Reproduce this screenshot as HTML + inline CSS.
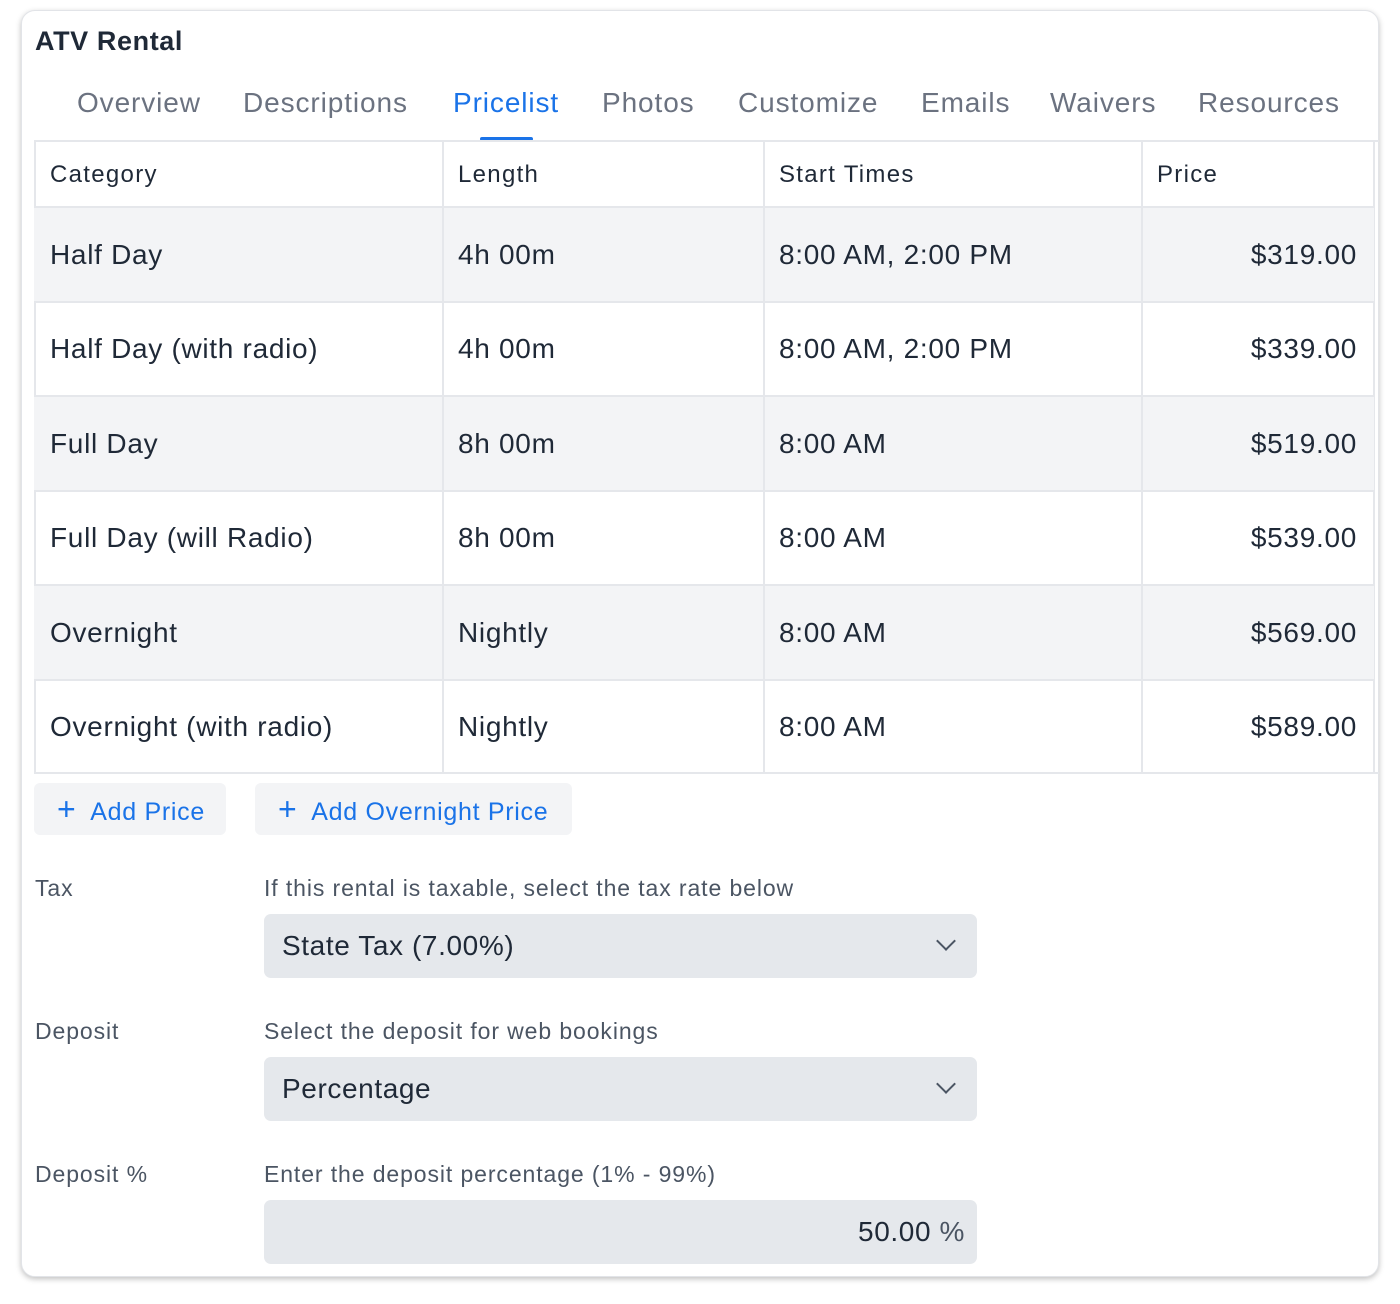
<!DOCTYPE html><html><head><style>
*{margin:0;padding:0;box-sizing:border-box}
body{width:1400px;height:1304px;background:#fff;font-family:"Liberation Sans",sans-serif;position:relative;overflow:hidden;color:#1f2937}
.card{position:absolute;left:21px;top:10px;width:1358px;height:1267px;border-radius:14px;background:#fff;box-shadow:0 2px 6px rgba(0,0,0,.25);border:1px solid #e2e4e8}
.a{position:absolute;white-space:nowrap}
.tab{position:absolute;top:86px;font-size:28px;color:#6b7280;line-height:34px;letter-spacing:0.9px}
.cell{position:absolute;font-size:28px;line-height:34px;color:#1f2937;letter-spacing:0.7px}
.hd{position:absolute;font-size:24px;top:160px;line-height:30px;color:#1f2937;letter-spacing:1.3px}
.row{position:absolute;left:34px;width:1340px;height:95px;border-top:2px solid #e5e7eb}
.vl{position:absolute;top:142px;width:2px;height:631px;background:#e5e7eb}
.btn{position:absolute;top:783px;height:52px;background:#f3f4f6;border-radius:6px;color:#1a73e8;font-size:25px;line-height:52px;letter-spacing:0.7px}
.lbl{position:absolute;font-size:23px;color:#4b5563;line-height:28px;letter-spacing:0.9px}
.sel{position:absolute;left:264px;width:713px;height:64px;background:#e5e8ec;border-radius:7px;font-size:28px;line-height:64px;padding-left:18px;color:#1f2937;letter-spacing:0.6px}
.chev{position:absolute;right:24px;width:14px;height:14px;border-right:2.5px solid #4b5563;border-bottom:2.5px solid #4b5563;transform:rotate(45deg);top:20px}
</style></head><body>
<div class="card"></div>
<div class="a" style="left:35px;top:24px;font-size:27px;font-weight:bold;color:#1f2937;line-height:34px;letter-spacing:0.6px">ATV Rental</div>
<div class="tab" style="left:77px">Overview</div>
<div class="tab" style="left:243px">Descriptions</div>
<div class="tab" style="left:453px;color:#1a73e8">Pricelist</div>
<div class="tab" style="left:602px">Photos</div>
<div class="tab" style="left:738px">Customize</div>
<div class="tab" style="left:921px">Emails</div>
<div class="tab" style="left:1050px">Waivers</div>
<div class="tab" style="left:1198px">Resources</div>
<div class="a" style="left:480px;top:137px;width:53px;height:4px;background:#1a73e8;border-radius:2px"></div>
<div class="a" style="left:34px;top:140px;width:1345px;height:634px;border:2px solid #e5e7eb;border-right:none"></div>
<div class="a" style="left:1373px;top:142px;width:2px;height:631px;background:#e5e7eb"></div>
<div class="row" style="top:206px;background:#f3f4f6"></div>
<div class="row" style="top:301px"></div>
<div class="row" style="top:395px;background:#f3f4f6"></div>
<div class="row" style="top:490px"></div>
<div class="row" style="top:584px;background:#f3f4f6"></div>
<div class="row" style="top:679px;height:94px"></div>
<div class="vl" style="left:442px"></div><div class="vl" style="left:763px"></div><div class="vl" style="left:1141px"></div>
<div class="hd" style="left:50px">Category</div><div class="hd" style="left:458px">Length</div><div class="hd" style="left:779px">Start Times</div><div class="hd" style="left:1157px">Price</div>
<div class="cell" style="left:50px;top:238px">Half Day</div><div class="cell" style="left:458px;top:238px">4h 00m</div><div class="cell" style="left:779px;top:238px">8:00 AM, 2:00 PM</div><div class="cell" style="right:43px;top:238px">$319.00</div>
<div class="cell" style="left:50px;top:332px">Half Day (with radio)</div><div class="cell" style="left:458px;top:332px">4h 00m</div><div class="cell" style="left:779px;top:332px">8:00 AM, 2:00 PM</div><div class="cell" style="right:43px;top:332px">$339.00</div>
<div class="cell" style="left:50px;top:427px">Full Day</div><div class="cell" style="left:458px;top:427px">8h 00m</div><div class="cell" style="left:779px;top:427px">8:00 AM</div><div class="cell" style="right:43px;top:427px">$519.00</div>
<div class="cell" style="left:50px;top:521px">Full Day (will Radio)</div><div class="cell" style="left:458px;top:521px">8h 00m</div><div class="cell" style="left:779px;top:521px">8:00 AM</div><div class="cell" style="right:43px;top:521px">$539.00</div>
<div class="cell" style="left:50px;top:616px">Overnight</div><div class="cell" style="left:458px;top:616px">Nightly</div><div class="cell" style="left:779px;top:616px">8:00 AM</div><div class="cell" style="right:43px;top:616px">$569.00</div>
<div class="cell" style="left:50px;top:710px">Overnight (with radio)</div><div class="cell" style="left:458px;top:710px">Nightly</div><div class="cell" style="left:779px;top:710px">8:00 AM</div><div class="cell" style="right:43px;top:710px">$589.00</div>
<div class="btn" style="left:34px;width:192px;padding-left:23px"><span style="font-size:32px;font-weight:300">+</span>&nbsp; Add Price</div>
<div class="btn" style="left:255px;width:317px;padding-left:23px"><span style="font-size:32px;font-weight:300">+</span>&nbsp; Add Overnight Price</div>
<div class="lbl" style="left:35px;top:874px">Tax</div>
<div class="lbl" style="left:264px;top:874px">If this rental is taxable, select the tax rate below</div>
<div class="sel" style="top:914px">State Tax (7.00%)<div class="chev"></div></div>
<div class="lbl" style="left:35px;top:1017px">Deposit</div>
<div class="lbl" style="left:264px;top:1017px">Select the deposit for web bookings</div>
<div class="sel" style="top:1057px">Percentage<div class="chev"></div></div>
<div class="lbl" style="left:35px;top:1160px">Deposit %</div>
<div class="lbl" style="left:264px;top:1160px">Enter the deposit percentage (1% - 99%)</div>
<div class="sel" style="top:1200px;text-align:right;padding-right:12px">50.00 <span style="color:#4b5563">%</span></div>
</body></html>
